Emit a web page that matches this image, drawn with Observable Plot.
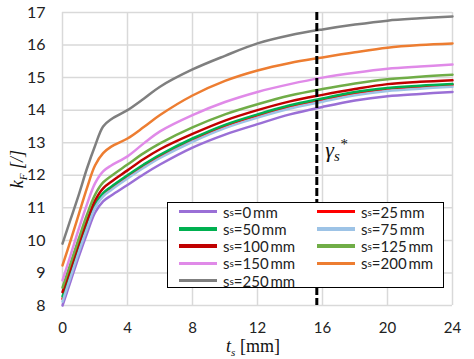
<!DOCTYPE html>
<html><head><meta charset="utf-8">
<script src="https://cdn.jsdelivr.net/npm/d3@7"></script>
<script src="https://cdn.jsdelivr.net/npm/@observablehq/plot@0.6"></script>
<style>
body{margin:0;background:#fff;}
#c{position:relative;width:474px;height:359px;overflow:hidden;}
#legend{position:absolute;left:167px;top:202px;width:275px;height:84px;border:1.5px solid #000;background:#fff;font-family:Lato,sans-serif;font-size:15px;color:#222;}
.item{position:absolute;height:17px;display:flex;align-items:center;white-space:nowrap;}
.sw{width:38px;height:3.5px;margin-right:6px;}
.item sub{font-size:10px;vertical-align:-3px;}
</style></head><body><div id="c"></div>
<script>
// thickness t_s [mm]
const tS = [0,0.5,1,1.5,2,2.5,3,4,5,6,8,10,12,14,16,18,20,22,24];
const seriesLabels = ["0","25","50","75","100","125","150","200","250"];
const seriesColors = ["#9a6fd6","#ff0000","#00b050","#9dc3e6","#c00000","#70ad47","#e08ae8","#ed7d31","#7f7f7f"];
const k0   = [8.0,8.75,9.5,10.2,10.85,11.2,11.38,11.7,12.03,12.33,12.85,13.25,13.57,13.87,14.1,14.3,14.43,14.5,14.56];
const k25  = [8.2,8.94,9.7,10.41,11.06,11.41,11.61,11.96,12.29,12.59,13.09,13.51,13.83,14.11,14.32,14.52,14.65,14.72,14.78];
const k50  = [8.28,9.0,9.76,10.47,11.1,11.45,11.65,12.0,12.33,12.63,13.13,13.55,13.87,14.15,14.36,14.56,14.68,14.75,14.8];
const k75  = [8.12,8.88,9.64,10.35,11.0,11.35,11.55,11.9,12.23,12.53,13.03,13.45,13.77,14.05,14.26,14.46,14.59,14.66,14.72];
const k100 = [8.41,9.15,9.9,10.6,11.22,11.6,11.8,12.15,12.5,12.8,13.27,13.68,14.0,14.27,14.47,14.65,14.8,14.87,14.92];
const k125 = [8.55,9.3,10.05,10.78,11.4,11.78,11.98,12.33,12.68,12.98,13.47,13.87,14.18,14.45,14.65,14.82,14.95,15.03,15.09];
const k150 = [8.77,9.55,10.35,11.1,11.75,12.12,12.3,12.58,12.98,13.35,13.85,14.25,14.56,14.8,15.0,15.15,15.27,15.34,15.4];
const k200 = [9.23,10.0,10.8,11.6,12.3,12.68,12.88,13.13,13.48,13.85,14.45,14.9,15.22,15.45,15.62,15.78,15.92,16.0,16.05];
const k250 = [9.9,10.65,11.4,12.2,12.9,13.5,13.72,14.0,14.35,14.72,15.25,15.67,16.05,16.3,16.48,16.63,16.75,16.82,16.88];
const xTicks = [0,4,8,12,16,20,24];
const yTicks = [8,9,10,11,12,13,14,15,16,17];
const gammaT = 15.65;
const gammaLabelPos = {t: 16.2, k: 12.55};

const allK = [k0,k25,k50,k75,k100,k125,k150,k200,k250];
const rows = [];
allK.forEach((arr, i) => arr.forEach((v, j) => rows.push({t: tS[j], k: v, s: seriesLabels[i]})));

const plot = Plot.plot({
  width: 474, height: 359,
  marginLeft: 62, marginRight: 22, marginTop: 12, marginBottom: 54,
  style: {fontFamily: "Lato, sans-serif", background: "#fff", overflow: "visible"},
  x: {domain: [0, 24], label: null},
  y: {domain: [8, 17], label: null},
  color: {domain: seriesLabels, range: seriesColors},
  marks: [
    Plot.gridX(xTicks, {stroke: "#d9d9d9", strokeOpacity: 1, strokeWidth: 1.5}),
    Plot.gridY(yTicks, {stroke: "#d9d9d9", strokeOpacity: 1, strokeWidth: 1.5}),
    Plot.axisX(xTicks, {tickSize: 0, tickPadding: 17, fontSize: 15, fill: "#222"}),
    Plot.axisY(yTicks, {tickSize: 0, tickPadding: 17, fontSize: 16, fill: "#222"}),
    Plot.line(rows, {x: "t", y: "k", z: "s", stroke: "s", strokeWidth: 2.5, curve: "catmull-rom"}),
    Plot.ruleX([gammaT], {stroke: "#000", strokeWidth: 3, strokeDasharray: "8,3"})
  ]
});
const c = document.getElementById("c");
c.appendChild(plot);

const svg = d3.select(plot);
const sx = plot.scale("x"), sy = plot.scale("y");
// gamma label
const g = svg.append("text")
  .attr("x", sx.apply(gammaLabelPos.t)).attr("y", sy.apply(gammaLabelPos.k))
  .attr("text-anchor", "start")
  .attr("font-family", "'Liberation Serif', serif").attr("font-size", 22).attr("font-style", "italic").attr("fill", "#111");
g.append("tspan").text("γ");
g.append("tspan").attr("font-size", 15).attr("dy", 4).text("s");
g.append("tspan").attr("font-size", 15).attr("dy", -12).text("*");

// x label
const xl = svg.append("text").attr("x", 253).attr("y", 352).attr("text-anchor", "middle")
  .attr("font-family", "'Liberation Serif', serif").attr("font-size", 18).attr("fill", "#111");
xl.append("tspan").attr("font-style", "italic").text("t");
xl.append("tspan").attr("font-style", "italic").attr("font-size", 11).attr("dy", 4).text("s");
xl.append("tspan").attr("dy", -4).text(" [mm]");

// y label
const yl = svg.append("text").attr("transform", "translate(23,169) rotate(-90)").attr("text-anchor", "middle")
  .attr("font-family", "'Liberation Serif', serif").attr("font-size", 18).attr("font-style", "italic").attr("fill", "#111");
yl.append("tspan").text("k");
yl.append("tspan").attr("font-size", 11).attr("dy", 4).text("F");
yl.append("tspan").attr("dy", -4).text(" [/]");

// legend
const leg = document.createElement("div");
leg.id = "legend";
seriesLabels.forEach((lab, i) => {
  const col = i % 2, row = Math.floor(i / 2);
  const it = document.createElement("div");
  it.className = "item";
  it.style.left = (col === 0 ? 11 : 149) + "px";
  it.style.top = (0.2 + row * 17.2) + "px";
  it.innerHTML = `<span class="sw" style="background:${seriesColors[i]}"></span>s<sub>s</sub>=${lab}&thinsp;mm`;
  leg.appendChild(it);
});
c.appendChild(leg);
</script>
</body></html>
